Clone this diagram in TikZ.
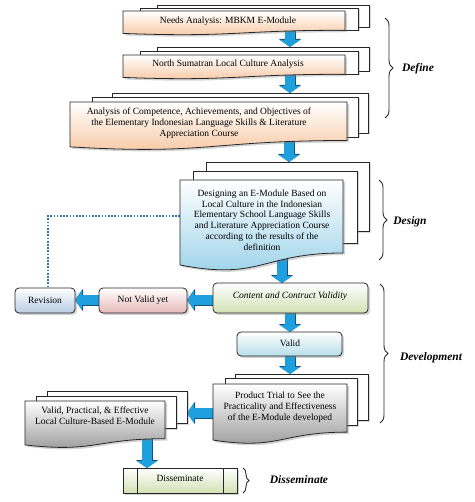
\documentclass[tikz,border=0pt]{standalone}
\usepackage{fontspec}
\setmainfont{Liberation Serif}
\usetikzlibrary{arrows.meta,shadows,decorations.pathreplacing}
\definecolor{arrblue}{RGB}{30,160,222}
\definecolor{arredge}{RGB}{25,80,130}
\definecolor{peach}{RGB}{247,198,160}
\definecolor{dblue}{RGB}{150,208,232}
\definecolor{dgray}{RGB}{150,150,150}
\definecolor{revblue}{RGB}{184,204,228}
\definecolor{nvpink}{RGB}{230,185,184}
\definecolor{cgreen}{RGB}{210,225,180}
\definecolor{vblue}{RGB}{183,222,232}
\definecolor{dotblue}{RGB}{46,117,182}
\newcommand\docshape[4]{(#1,#3) -- (#2,#3) -- (#2,{#3+0.802*#4}) .. controls ({(#1+#2)/2},{#3+0.802*#4}) and ({(#1+#2)/2},{#3+1.107*#4}) .. (#1,{#3+0.934*#4}) -- cycle}
\tikzset{
  page/.style={draw=black!85, line width=0.8pt, fill=white, drop shadow={opacity=0.3, shadow xshift=1.5pt, shadow yshift=-1.5pt}},
  front/.style={draw=black!85, line width=0.8pt, top color=white, bottom color=#1, drop shadow={opacity=0.35, shadow xshift=2pt, shadow yshift=-2pt}},
  rbox/.style={draw=black!85, line width=0.8pt, rounded corners=4pt, top color=white, bottom color=#1, drop shadow={opacity=0.35, shadow xshift=2pt, shadow yshift=-2pt}},
  txt/.style={font=\fontsize{9.5}{10.8}\selectfont, align=center, inner sep=0pt},
  lbl/.style={font=\fontsize{11.5}{13}\selectfont\bfseries\itshape, inner sep=0pt},
  blk/.style={line width=10pt, arrblue, -{Triangle[width=20pt,length=7pt]},
    preaction={draw, line width=11pt, arredge, -{Triangle[width=22pt,length=8pt]}}},
  brc/.style={decorate, decoration={brace, amplitude=8pt}, line width=0.9pt, black!85},
}
\begin{document}
\begin{tikzpicture}[x=1pt,y=-1pt]
\useasboundingbox (0,0) rectangle (474,502);
% arrow end points
\coordinate (a1s) at (290,20);  \coordinate (a1e) at (290,47);
\coordinate (a2s) at (290,65);  \coordinate (a2e) at (290,93);
\coordinate (a3s) at (289,125); \coordinate (a3e) at (289,162);
\coordinate (a4s) at (282,240); \coordinate (a4e) at (282,283);
\coordinate (a5s) at (250,300); \coordinate (a5e) at (187,300);
\coordinate (a6s) at (143,300); \coordinate (a6e) at (75,300);
\coordinate (a7s) at (290,300); \coordinate (a7e) at (290,332);
\coordinate (a8s) at (290,345); \coordinate (a8e) at (290,374);
\coordinate (a9s) at (280,413); \coordinate (a9e) at (187,413);
\coordinate (a10s) at (147,420); \coordinate (a10e) at (147,468);
\foreach \s/\e in {a1s/a1e,a2s/a2e,a3s/a3e,a4s/a4e,a5s/a5e,a6s/a6e,a7s/a7e,a8s/a8e,a9s/a9e,a10s/a10e}
  \draw[blk] (\s) -- (\e);
% dotted feedback line
\coordinate (dots) at (180,216); \coordinate (dotc) at (48,216); \coordinate (dote) at (48,288);
\draw[dotblue, line width=1.7pt, dash pattern=on 1.7pt off 1.5pt] (dots) -- (dotc) -- (dote);
% box 1
\path[page] (157,5) rectangle (369,27);
\path[page] (140,8) rectangle (358,30);
\path[front=peach] \docshape{123}{345}{11}{24};
\node[txt] (n1) at (228,21) {Needs Analysis: MBKM E-Module};
% box 2
\path[page] (157,47) rectangle (369,71);
\path[page] (140,51) rectangle (358,74);
\path[front=peach] \docshape{123}{345}{55}{24};
\node[txt] (n2) at (228,64.5) {North Sumatran Local Culture Analysis};
% box 3
\path[page] (112,93) rectangle (368,133);
\path[page] (92,97) rectangle (358,137);
\path[front=peach] \docshape{70}{347}{102}{48};
\node[txt] (n3) at (199,123) {Analysis of Competence, Achievements, and Objectives of\\the Elementary Indonesian Language Skills \& Literature\\Appreciation Course};
% design
\path[page] (206,162) rectangle (369,231);
\path[page] (193,171) rectangle (357,243);
\path[front=dblue] \docshape{180}{343}{180}{91};
\node[txt] (n4) at (262,220) {Designing an E-Module Based on\\Local Culture in the Indonesian\\Elementary School Language Skills\\and Literature Appreciation Course\\according to the results of the\\definition};
% row boxes
\path[rbox=revblue] (15,288) rectangle (75,313);
\node[txt] (rev) at (45,300.5) {Revision};
\path[rbox=nvpink] (99,288) rectangle (187,313);
\node[txt] (nv) at (143,300) {Not Valid yet};
\path[rbox=cgreen] (213,283) rectangle (368,313);
\node[txt, font=\fontsize{9.5}{10.8}\selectfont\itshape] (cv) at (290,296) {Content and Contruct Validity};
\path[rbox=vblue] (237,332) rectangle (342,356);
\node[txt] (val) at (290,343.5) {Valid};
% product trial
\path[page] (235,374) rectangle (368,420);
\path[page] (225,378) rectangle (357,425);
\path[front=dgray] \docshape{213}{347}{384}{60};
\node[txt] (pt) at (280,407) {Product Trial to See the\\Practicality and Effectiveness\\of the E-Module developed};
% valid practical
\path[page] (47,391) rectangle (187,423);
\path[page] (36,396) rectangle (176,428);
\path[front=dgray] \docshape{25}{165}{401}{47};
\node[txt] (vp) at (95,416) {Valid, Practical, \& Effective\\Local Culture-Based E-Module};
% disseminate
\path[draw=black!85, line width=0.8pt, top color=white, bottom color=cgreen, drop shadow={opacity=0.35, shadow xshift=2pt, shadow yshift=-2pt}] (123,468) rectangle (237,493);
\draw[black!85, line width=0.8pt] (137,468) -- (137,493) (223,468) -- (223,493);
\node[txt] (dis) at (180,478) {Disseminate};
% braces and labels
\draw[brc] (385,18) -- (385,118);
\node[lbl] (lde) at (418,69) {Define};
\draw[brc] (379,180) -- (379,260);
\node[lbl] (lds) at (410,222) {Design};
\draw[brc] (380,284) -- (380,423);
\node[lbl] (ldv) at (431,358) {Development};
\draw[brc, decoration={brace, amplitude=6pt}] (243,468) -- (243,493);
\node[lbl] (ldi) at (299,480) {Disseminate};
\end{tikzpicture}
\end{document}
